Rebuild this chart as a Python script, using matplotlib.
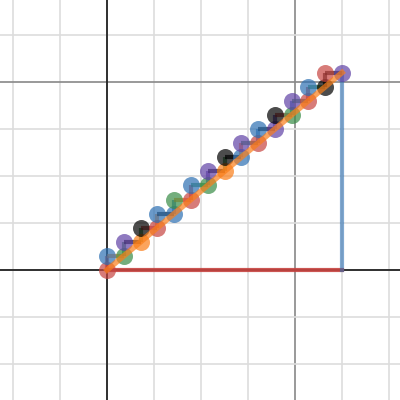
import matplotlib
matplotlib.use("Agg")
import matplotlib.pyplot as plt
import numpy as np

n_steps = 14
x_end = 5.0
y_end = 4.2
# staircase point indices (i, j) -> (i*dx, j*dy)
step_i = [0,0,1,1,2,2,3,3,4,4,5,5,6,6,7,7,8,8,9,9,10,10,11,11,12,12,13,13,14]
step_j = [0,1,1,2,2,3,3,4,4,5,5,6,6,7,7,8,8,9,9,10,10,11,11,12,12,13,13,14,14]
point_colors = ['R','B','G','P','O','K','R','B','B','G','R','B','G','P','O','K',
                'B','P','R','B','P','K','G','P','R','B','K','R','P']
seg_colors = ['R','O','G','K','G','R','O','K','B','O','R','G','P','K',
              'G','K','O','G','B','K','P','R','B','G','R','G','K','K']

pal = {'R':'#c74440','B':'#2d70b3','G':'#388c46','P':'#6042a6','O':'#fa7e19','K':'#000000'}

fig = plt.figure(figsize=(4,4), dpi=100)
ax = fig.add_axes([0,0,1,1])
x0, x1 = -107/47, 293/47
y0, y1 = -130/47, 270/47
ax.set_xlim(x0, x1); ax.set_ylim(y0, y1)
for v in range(-3, 8):
    ax.axvline(v, color='#888888' if v % 4 == 0 and v != 0 else '#dddddd', lw=1.2, zorder=0)
for v in range(-3, 7):
    ax.axhline(v, color='#888888' if v % 4 == 0 and v != 0 else '#dddddd', lw=1.2, zorder=0)
ax.axvline(0, color='#222222', lw=1.3, zorder=1)
ax.axhline(0, color='#222222', lw=1.3, zorder=1)
ax.axis('off')

dx, dy = x_end/n_steps, y_end/n_steps
xs = np.array(step_i)*dx
ys = np.array(step_j)*dy

ax.plot([0, x_end], [0, 0], color=pal['R'], lw=3, alpha=0.9, zorder=2)
ax.plot([x_end, x_end], [0, y_end], color=pal['B'], lw=3, alpha=0.6, zorder=2)
for k in range(len(xs)-1):
    ax.plot(xs[k:k+2], ys[k:k+2], color=pal[seg_colors[k]], lw=3, alpha=0.7, zorder=3,
            solid_capstyle='butt')
for k in range(len(xs)):
    ax.scatter(xs[k], ys[k], s=150, color=pal[point_colors[k]], alpha=0.7, lw=0, zorder=4)
ax.plot([0, x_end], [0, y_end], color=pal['O'], lw=4, alpha=0.7, zorder=5)
fig.savefig('out.png', dpi=100)
